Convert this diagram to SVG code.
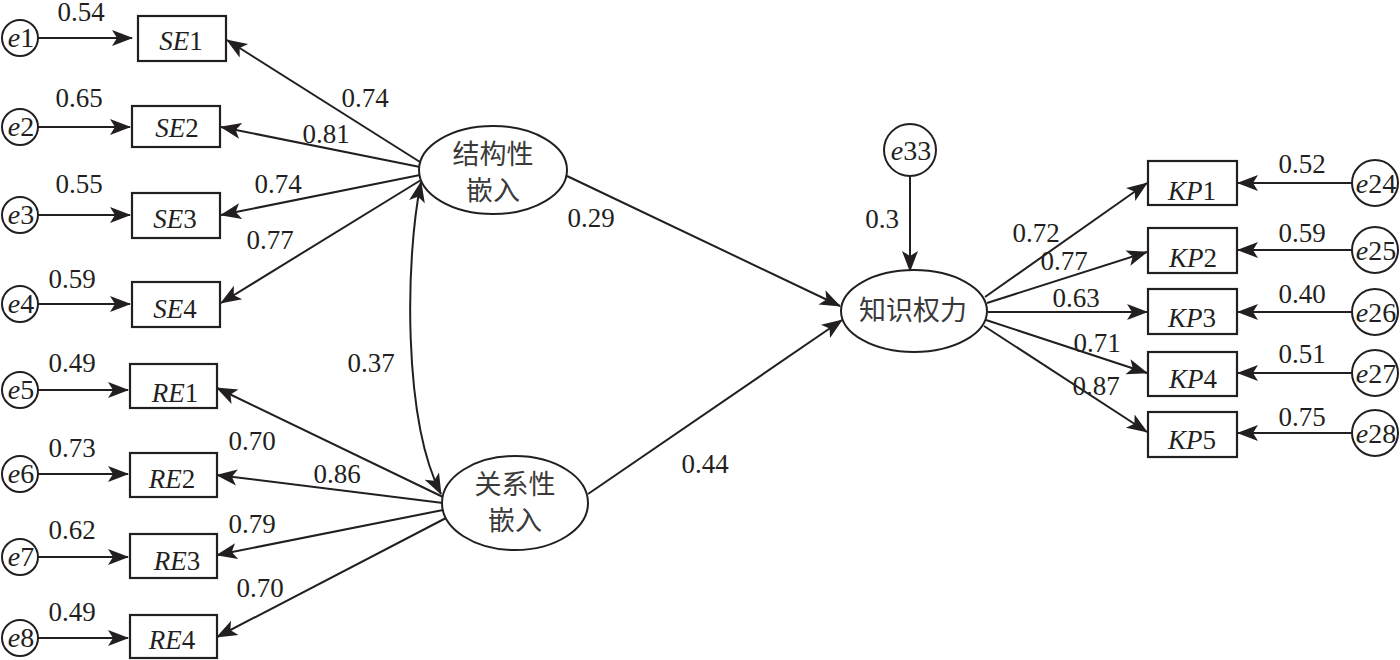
<svg xmlns="http://www.w3.org/2000/svg" width="1400" height="660" viewBox="0 0 1400 660">
<style>
.bg{fill:#ffffff}
.box{fill:#ffffff;stroke:#231f20;stroke-width:2.2}
.err{fill:#ffffff;stroke:#231f20;stroke-width:2}
.lat{fill:#ffffff;stroke:#231f20;stroke-width:2}
.ln{fill:none;stroke:#231f20;stroke-width:2;marker-end:url(#ah)}
.dbl{fill:none;stroke:#231f20;stroke-width:2;marker-start:url(#ah);marker-end:url(#ah)}
text{font-family:'Liberation Serif','Times New Roman',Times,serif;fill:#231f20;text-anchor:middle}
.num{font-size:27px}
.var{font-size:27px}
.ev{font-size:28px}
.cjk{font-family:'Noto Sans CJK SC','Noto Sans',sans-serif;font-size:27px;fill:#3a3a3a}
.it{font-style:italic}
</style>
<defs>
<marker id="ah" markerUnits="userSpaceOnUse" markerWidth="24" markerHeight="20" viewBox="-23 -10 24 20" refX="0" refY="0" orient="auto-start-reverse">
<path d="M1,0 L-20,-8 L-15,0 L-20,8 Z" fill="#231f20"/>
</marker>
</defs>
<rect class="bg" x="0" y="0" width="1400" height="660"/>

<g id="connectors">
<line class="ln" x1="38" y1="38" x2="132" y2="38"/>
<line class="ln" x1="38" y1="127" x2="130" y2="127"/>
<line class="ln" x1="38" y1="215" x2="130" y2="215"/>
<line class="ln" x1="38" y1="304" x2="130" y2="304"/>
<line class="ln" x1="38" y1="390" x2="128" y2="390"/>
<line class="ln" x1="38" y1="474" x2="128" y2="474"/>
<line class="ln" x1="38" y1="557" x2="128" y2="557"/>
<line class="ln" x1="38" y1="638" x2="128" y2="638"/>
<line class="ln" x1="420" y1="162" x2="227" y2="40"/>
<line class="ln" x1="420" y1="167" x2="221" y2="127"/>
<line class="ln" x1="420" y1="175" x2="221" y2="215"/>
<line class="ln" x1="421" y1="180" x2="221" y2="303"/>
<line class="ln" x1="443" y1="497" x2="217" y2="388"/>
<line class="ln" x1="443" y1="503" x2="217" y2="475"/>
<line class="ln" x1="443" y1="510" x2="217" y2="555"/>
<line class="ln" x1="446" y1="518" x2="217" y2="637"/>
<path class="dbl" d="M421,182 C405,260 403,420 441,494"/>
<line class="ln" x1="567" y1="176" x2="840" y2="306"/>
<line class="ln" x1="588" y1="494" x2="842" y2="320"/>
<line class="ln" x1="910" y1="176" x2="910" y2="271"/>
<line class="ln" x1="985" y1="297" x2="1147" y2="183"/>
<line class="ln" x1="987" y1="303" x2="1147" y2="252"/>
<line class="ln" x1="988" y1="312" x2="1147" y2="312"/>
<line class="ln" x1="986" y1="320" x2="1147" y2="373"/>
<line class="ln" x1="984" y1="326" x2="1147" y2="432"/>
<line class="ln" x1="1352" y1="183" x2="1238" y2="183"/>
<line class="ln" x1="1352" y1="250" x2="1238" y2="250"/>
<line class="ln" x1="1352" y1="312" x2="1238" y2="312"/>
<line class="ln" x1="1352" y1="373" x2="1238" y2="373"/>
<line class="ln" x1="1352" y1="433" x2="1238" y2="433"/>
</g>

<g id="labels">
<text class="num" x="81" y="21">0.54</text>
<text class="num" x="79" y="107">0.65</text>
<text class="num" x="79" y="193">0.55</text>
<text class="num" x="72" y="288">0.59</text>
<text class="num" x="72" y="372">0.49</text>
<text class="num" x="72" y="457">0.73</text>
<text class="num" x="72" y="539">0.62</text>
<text class="num" x="72" y="621">0.49</text>
<text class="num" x="365" y="107">0.74</text>
<text class="num" x="326" y="143">0.81</text>
<text class="num" x="278" y="193">0.74</text>
<text class="num" x="270" y="249">0.77</text>
<text class="num" x="252" y="450">0.70</text>
<text class="num" x="337" y="483">0.86</text>
<text class="num" x="252" y="533">0.79</text>
<text class="num" x="260" y="597">0.70</text>
<text class="num" x="371" y="372">0.37</text>
<text class="num" x="591" y="227">0.29</text>
<text class="num" x="705" y="473">0.44</text>
<text class="num" x="882" y="228">0.3</text>
<text class="num" x="1036" y="242">0.72</text>
<text class="num" x="1064" y="270">0.77</text>
<text class="num" x="1076" y="307">0.63</text>
<text class="num" x="1097" y="352">0.71</text>
<text class="num" x="1096" y="395">0.87</text>
<text class="num" x="1302" y="173">0.52</text>
<text class="num" x="1302" y="242">0.59</text>
<text class="num" x="1302" y="303">0.40</text>
<text class="num" x="1302" y="363">0.51</text>
<text class="num" x="1302" y="426">0.75</text>
</g>

<g id="e1"><circle class="err" cx="20" cy="38" r="18"/><text class="ev" x="21" y="47"><tspan class="it">e</tspan>1</text></g>
<g id="e2"><circle class="err" cx="20" cy="127" r="18"/><text class="ev" x="21" y="136"><tspan class="it">e</tspan>2</text></g>
<g id="e3"><circle class="err" cx="20" cy="215" r="18"/><text class="ev" x="21" y="224"><tspan class="it">e</tspan>3</text></g>
<g id="e4"><circle class="err" cx="20" cy="304" r="18"/><text class="ev" x="21" y="313"><tspan class="it">e</tspan>4</text></g>
<g id="e5"><circle class="err" cx="20" cy="390" r="18"/><text class="ev" x="21" y="399"><tspan class="it">e</tspan>5</text></g>
<g id="e6"><circle class="err" cx="20" cy="474" r="18"/><text class="ev" x="21" y="483"><tspan class="it">e</tspan>6</text></g>
<g id="e7"><circle class="err" cx="20" cy="557" r="18"/><text class="ev" x="21" y="566"><tspan class="it">e</tspan>7</text></g>
<g id="e8"><circle class="err" cx="20" cy="638" r="18"/><text class="ev" x="21" y="647"><tspan class="it">e</tspan>8</text></g>

<g id="SE1"><rect class="box" x="138" y="16" width="88" height="45"/><text class="var" x="181" y="50"><tspan class="it">SE</tspan>1</text></g>
<g id="SE2"><rect class="box" x="132" y="106" width="88" height="41"/><text class="var" x="177" y="137"><tspan class="it">SE</tspan>2</text></g>
<g id="SE3"><rect class="box" x="132" y="193" width="88" height="45"/><text class="var" x="175" y="228"><tspan class="it">SE</tspan>3</text></g>
<g id="SE4"><rect class="box" x="132" y="282" width="88" height="45"/><text class="var" x="175" y="318"><tspan class="it">SE</tspan>4</text></g>

<g id="RE1"><rect class="box" x="130" y="364" width="87" height="44"/><text class="var" x="175" y="402"><tspan class="it">RE</tspan>1</text></g>
<g id="RE2"><rect class="box" x="130" y="453" width="87" height="44"/><text class="var" x="172" y="488"><tspan class="it">RE</tspan>2</text></g>
<g id="RE3"><rect class="box" x="130" y="534" width="87" height="44"/><text class="var" x="177" y="570"><tspan class="it">RE</tspan>3</text></g>
<g id="RE4"><rect class="box" x="130" y="615" width="87" height="43"/><text class="var" x="172" y="649"><tspan class="it">RE</tspan>4</text></g>

<g id="SEmb"><ellipse class="lat" cx="493" cy="170" rx="74" ry="44"/><text class="cjk" x="493" y="164">结构性</text><text class="cjk" x="493" y="200">嵌入</text></g>
<g id="REmb"><ellipse class="lat" cx="515" cy="503" rx="73" ry="47"/><text class="cjk" x="515" y="494">关系性</text><text class="cjk" x="515" y="530">嵌入</text></g>
<g id="KPow"><ellipse class="lat" cx="914" cy="311" rx="73" ry="41"/><text class="cjk" x="913" y="320">知识权力</text></g>
<g id="e33"><circle class="err" cx="910" cy="150" r="26"/><text class="ev" x="911" y="160"><tspan class="it">e</tspan>33</text></g>

<g id="KP1"><rect class="box" x="1148" y="161" width="89" height="44"/><text class="var" x="1192" y="200"><tspan class="it">KP</tspan>1</text></g>
<g id="KP2"><rect class="box" x="1148" y="228" width="89" height="45"/><text class="var" x="1193" y="267"><tspan class="it">KP</tspan>2</text></g>
<g id="KP3"><rect class="box" x="1148" y="289" width="89" height="45"/><text class="var" x="1192" y="327"><tspan class="it">KP</tspan>3</text></g>
<g id="KP4"><rect class="box" x="1148" y="352" width="89" height="44"/><text class="var" x="1193" y="388"><tspan class="it">KP</tspan>4</text></g>
<g id="KP5"><rect class="box" x="1148" y="412" width="89" height="45"/><text class="var" x="1192" y="449"><tspan class="it">KP</tspan>5</text></g>

<g id="e24"><circle class="err" cx="1375" cy="183" r="23"/><text class="ev" x="1376" y="193"><tspan class="it">e</tspan>24</text></g>
<g id="e25"><circle class="err" cx="1375" cy="250" r="23"/><text class="ev" x="1376" y="260"><tspan class="it">e</tspan>25</text></g>
<g id="e26"><circle class="err" cx="1375" cy="312" r="23"/><text class="ev" x="1376" y="322"><tspan class="it">e</tspan>26</text></g>
<g id="e27"><circle class="err" cx="1375" cy="373" r="23"/><text class="ev" x="1376" y="383"><tspan class="it">e</tspan>27</text></g>
<g id="e28"><circle class="err" cx="1375" cy="433" r="23"/><text class="ev" x="1376" y="443"><tspan class="it">e</tspan>28</text></g>
</svg>
